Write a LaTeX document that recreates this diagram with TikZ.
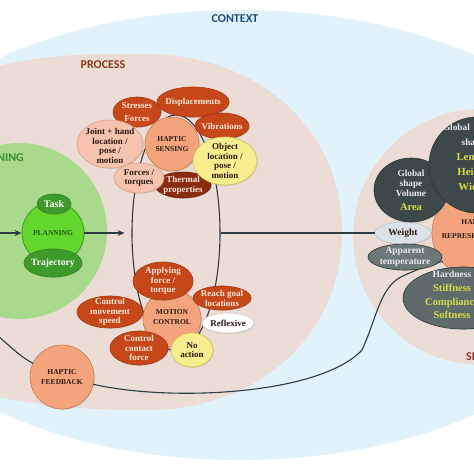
\documentclass[tikz,border=0pt]{standalone}
\usepackage{fontspec}
\setmainfont{Liberation Serif}
\newfontfamily\hdr{Carlito}
\usetikzlibrary{shapes.geometric,arrows.meta,shadows}
\definecolor{cctx}{HTML}{E2F2FB}
\definecolor{cproc}{HTML}{EBDCD5}
\definecolor{cplbg}{HTML}{A9D98B}
\definecolor{cpl}{HTML}{62D62C}
\definecolor{cplb}{HTML}{3D9A1F}
\definecolor{ctask}{HTML}{3E9B2B}
\definecolor{ctaskb}{HTML}{2E7D1E}
\definecolor{cdor}{HTML}{C5471A}
\definecolor{cdorb}{HTML}{A5360E}
\definecolor{cdbr}{HTML}{8B2B10}
\definecolor{cdbrb}{HTML}{6E1F08}
\definecolor{clpk}{HTML}{F6C3AE}
\definecolor{clpkb}{HTML}{D8A08A}
\definecolor{csal}{HTML}{F4A47D}
\definecolor{csalb}{HTML}{C57A52}
\definecolor{cyel}{HTML}{F6EE8E}
\definecolor{cyelb}{HTML}{D0C45A}
\definecolor{cwhtb}{HTML}{C9C9C9}
\definecolor{cdsl}{HTML}{3D4848}
\definecolor{cdslb}{HTML}{2E3636}
\definecolor{cgra}{HTML}{6C7878}
\definecolor{cgrb}{HTML}{5F6B6B}
\definecolor{cwgt}{HTML}{DDE2E6}
\definecolor{cwgtb}{HTML}{BFC6CB}
\definecolor{cline}{HTML}{2F3B42}
\definecolor{ctl}{HTML}{FCE7D8}
\definecolor{ctd}{HTML}{2B1A10}
\definecolor{cylt}{HTML}{D6DC46}
\definecolor{cplt}{HTML}{1E5B12}
\definecolor{cctxt}{HTML}{1F4E79}
\definecolor{cproct}{HTML}{8D3B1C}
\definecolor{cplant}{HTML}{3C8E28}
\begin{document}
\begin{tikzpicture}[x=1pt,y=-1pt,
  bub/.style={ellipse, inner sep=0pt, outer sep=0pt, line width=0.6pt,
    drop shadow={shadow xshift=0.8pt, shadow yshift=-0.8pt, opacity=0.25}},
  dor/.style={bub, fill=cdor, draw=cdorb},
  dbr/.style={bub, fill=cdbr, draw=cdbrb},
  lpk/.style={bub, fill=clpk, draw=clpkb},
  sal/.style={bub, fill=csal, draw=csalb},
  yel/.style={bub, fill=cyel, draw=cyelb},
  wht/.style={bub, fill=white, draw=cwhtb},
  dsl/.style={bub, fill=cdsl, draw=cdslb},
  gra/.style={bub, fill=cgra, draw=cdslb},
  grb/.style={bub, fill=cgrb, draw=cdslb},
  wgt/.style={bub, fill=cwgt, draw=cwgtb},
  grn/.style={bub, fill=ctask, draw=ctaskb},
  tl/.style={font=\bfseries\fontsize{9}{9.5}\selectfont, align=center, inner sep=0pt, text=ctl},
  td/.style={font=\bfseries\fontsize{9}{9.5}\selectfont, align=center, inner sep=0pt, text=ctd},
  tcap/.style={font=\bfseries\fontsize{7.5}{9.5}\selectfont, align=center, inner sep=0pt, text=ctd},
  hd/.style={font=\hdr\bfseries\fontsize{12}{12}\selectfont, inner sep=0pt},
  conn/.style={draw=cline, line width=1.1pt},
  arr/.style={conn, -{Stealth[length=7pt,width=6pt]}}
]
\useasboundingbox (0,0) rectangle (474,474);
\clip (0,0) rectangle (474,474);
\fill[white] (0,0) rectangle (474,474);
% regions
\fill[cctx] (240,235) ellipse (390pt and 225pt);
\fill[cproc] (-20,68) -- (-10,68) .. controls (40,55) and (90,53) .. (150,54)
  .. controls (260,56) and (342,130) .. (342,232)
  .. controls (342,334) and (260,409) .. (150,410)
  .. controls (90,411) and (40,405) .. (-10,396) -- (-20,396) -- cycle;
\fill[cproc] (481,237) circle (128pt);
\fill[cplbg] (19,231) circle (88pt);
% region titles
\node[hd, text=cctxt] (tctx) at (235,19) {CONTEXT};
\node[hd, text=cproct] (tproc) at (103,65) {PROCESS};
\node[hd, text=cplant, anchor=east] (tplan) at (24,158) {PLANNING};
\node[hd, text=cproct, anchor=west] (tsens) at (466,357) {SENSING};
% loop
\node[draw=cline, line width=1.1pt, ellipse, minimum width=88pt, minimum height=236pt, inner sep=0pt] (loop) at (176,233) {};
% planning cluster
\node[circle, minimum size=62pt, inner sep=0pt, fill=cpl, draw=cplb, line width=0.8pt,
  drop shadow={shadow xshift=0.8pt, shadow yshift=-0.8pt, opacity=0.25},
  label={[font=\bfseries\fontsize{7.5}{9}\selectfont, text=cplt]center:PLANNING}] (plan) at (53,233) {};
\node[grn, minimum width=34pt, minimum height=20pt,
  label={[font=\bfseries\fontsize{10}{10}\selectfont, text=white]center:Task}] (task) at (54,204) {};
\node[grn, minimum width=58pt, minimum height=28pt,
  label={[font=\bfseries\fontsize{9.6}{10}\selectfont, text=white]center:Trajectory}] (traj) at (53,263) {};
% connectors
\coordinate (inL) at (-2,233);
\coordinate (fbL) at (-2,336);
\draw[arr] (inL) -- (plan.west);
\draw[arr, shorten >=7pt] (plan.east) -- (plan.east -| loop.west);
\node[wgt, minimum width=56pt, minimum height=22pt,
  label={[td, font=\bfseries\fontsize{9.5}{10}\selectfont]center:Weight}] (weight) at (403,233) {};
\draw[conn] (loop.east) -- (weight.west);
% haptic feedback and curve
\node[sal, minimum width=64pt, minimum height=64pt,
  label={[tcap]center:HAPTIC\\FEEDBACK}] (hf) at (62,377) {};
\node[sal, minimum width=92pt, minimum height=92pt,
  label={[tcap, font=\bfseries\fontsize{7.5}{14}\selectfont, yshift=4pt, xshift=-2pt]center:HAPTIC\\REPRESENTATION}] (rep) at (478,233) {};
\draw[conn] (fbL) .. controls (12,348) and (22,358) .. (hf);
\draw[conn] (hf) .. controls (170,402) and (320,395) .. (362,350)
  .. controls (378,315) and (380,285) .. (405,275)
  .. controls (425,266) and (445,260) .. (rep);
% sensing cluster
\node[dor, minimum width=48pt, minimum height=30pt,
  label={[tl, font=\bfseries\fontsize{9}{13}\selectfont]center:Stresses\\Forces}] (stress) at (137,112) {};
\node[dor, minimum width=72pt, minimum height=30pt,
  label={[tl]center:Displacements}] (disp) at (193,102) {};
\node[dor, minimum width=54pt, minimum height=26pt,
  label={[tl]center:Vibrations}] (vib) at (222,126) {};
\node[lpk, minimum width=66pt, minimum height=48pt,
  label={[td, yshift=-2pt]center:Joint + hand\\location /\\pose /\\motion}] (joint) at (110,144) {};
\node[dbr, minimum width=56pt, minimum height=26pt,
  label={[tl, font=\bfseries\fontsize{9}{10}\selectfont]center:Thermal\\properties}] (therm) at (183,185) {};
\node[lpk, minimum width=50pt, minimum height=30pt,
  label={[td]center:Forces /\\torques}] (ftq) at (139,178) {};
\node[sal, minimum width=54pt, minimum height=54pt,
  label={[tcap, font=\bfseries\fontsize{7.5}{10}\selectfont]center:HAPTIC\\SENSING}] (sens) at (172,144) {};
\node[yel, minimum width=64pt, minimum height=48pt,
  label={[td]center:Object\\location /\\pose /\\motion}] (obj) at (225,161) {};
% motion cluster
\node[sal, minimum width=58pt, minimum height=58pt,
  label={[tcap, yshift=2pt]center:MOTION\\CONTROL}] (mot) at (172,319) {};
\node[dor, minimum width=60pt, minimum height=38pt,
  label={[tl]center:Applying\\force /\\torque}] (apply) at (163,281) {};
\node[dor, minimum width=58pt, minimum height=24pt,
  label={[tl, font=\bfseries\fontsize{9}{10}\selectfont]center:Reach goal\\locations}] (reach) at (222,298) {};
\node[dor, minimum width=66pt, minimum height=32pt,
  label={[tl]center:Control\\movement\\speed}] (speed) at (110,312) {};
\node[wht, minimum width=52pt, minimum height=20pt,
  label={[td]center:Reflexive}] (refl) at (228,323) {};
\node[dor, minimum width=58pt, minimum height=34pt,
  label={[tl]center:Control\\contact\\force}] (cforce) at (139,348) {};
\node[yel, minimum width=42pt, minimum height=34pt,
  label={[td]center:No\\action}] (noact) at (192,350) {};
% representation cluster
\node[dsl, minimum width=74pt, minimum height=64pt,
  label={[align=center, inner sep=0pt, text=white!92!black, font=\bfseries\fontsize{9.3}{10}\selectfont]center:Global\\shape\\Volume\\[4pt]{\color{cylt}\fontsize{10.5}{10}\selectfont Area}}] (area) at (411,190) {};
\node[dsl, minimum width=96pt, minimum height=96pt,
  label={[align=center, inner sep=0pt, text=white!92!black, xshift=-4pt, yshift=8pt, font=\bfseries\fontsize{9.3}{15}\selectfont]center:\makebox[60pt][l]{Global}\\shape\\{\color{cylt}\fontsize{10.8}{15}\selectfont Length}\\{\color{cylt}\fontsize{10.8}{15}\selectfont Height}\\{\color{cylt}\fontsize{10.8}{15}\selectfont Width}}] (glob) at (477,165) {};
\node[grb, minimum width=120pt, minimum height=62pt,
  label={[align=center, inner sep=0pt, text=white!92!black, xshift=-11pt, yshift=3pt, font=\bfseries\fontsize{9.5}{13.7}\selectfont]center:Hardness\\{\color{cylt}\fontsize{10.5}{13.7}\selectfont Stiffness}\\{\color{cylt}\fontsize{10.5}{13.7}\selectfont Compliance}\\{\color{cylt}\fontsize{10.5}{13.7}\selectfont Softness}}] (hard) at (463,298) {};
\node[gra, minimum width=74pt, minimum height=26pt,
  label={[align=center, inner sep=0pt, text=white!92!black, font=\bfseries\fontsize{9.5}{11}\selectfont]center:Apparent\\temperature}] (temp) at (405,257) {};
\end{tikzpicture}
\end{document}
